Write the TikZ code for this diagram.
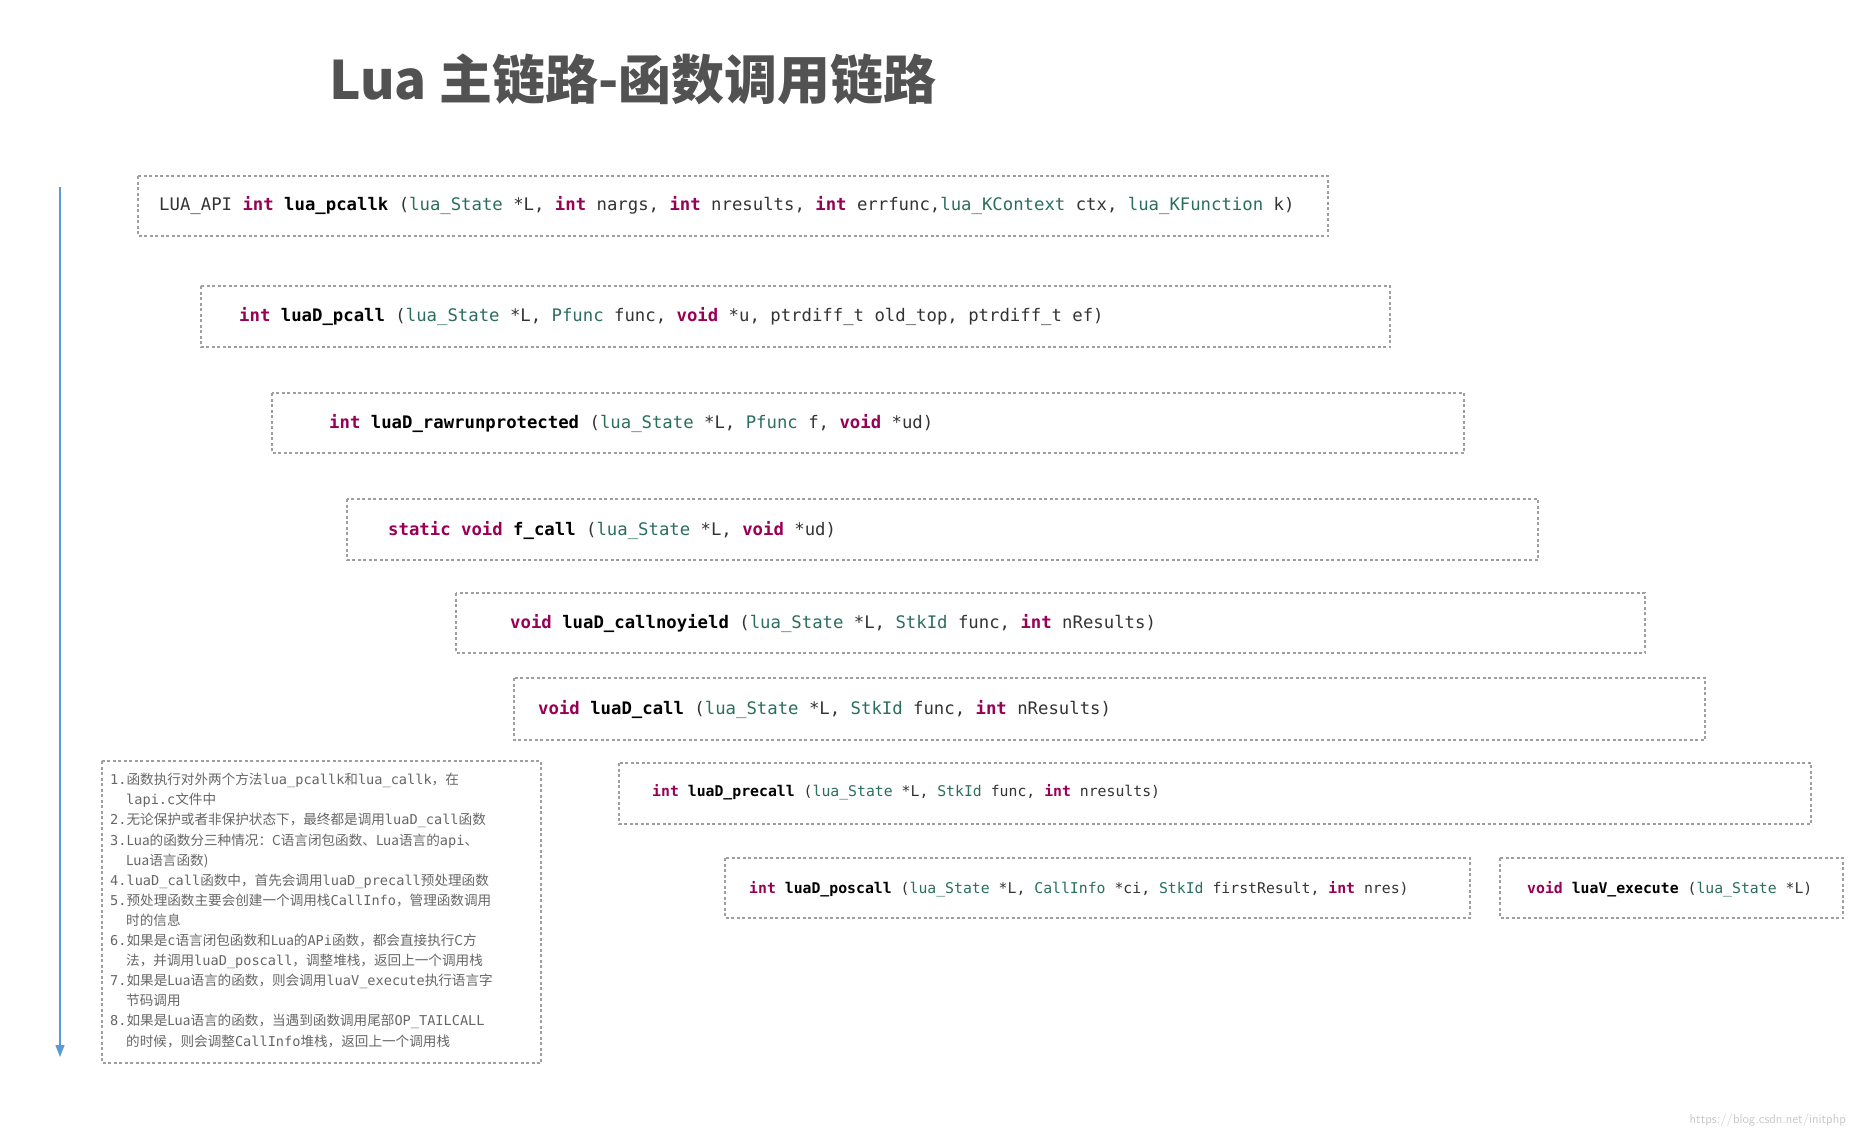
\documentclass[tikz,border=0pt]{standalone}
\usepackage{fontspec}
\usetikzlibrary{arrows.meta}
\newfontfamily\cjk{Noto Sans CJK SC}
\newfontfamily\mono{DejaVu Sans Mono}
\setmonofont{DejaVu Sans Mono}
\definecolor{kwc}{HTML}{990055}
\definecolor{tyc}{HTML}{2A6E5E}
\definecolor{txc}{HTML}{333333}
\newcommand\kw[1]{{\bfseries\color{kwc}#1}}
\newcommand\ty[1]{{\color{tyc}#1}}
\newcommand\fn[1]{{\bfseries\color{black}#1}}
\newcommand\m[1]{{\mono #1}}
\begin{document}
\begin{tikzpicture}[x=1pt,y=-1pt,
  fbox/.style={draw=gray!75,line width=1.1pt,dash pattern=on 3pt off 2.5pt},
  code/.style={anchor=west,inner sep=0pt,font=\mono\fontsize{17.3}{20}\selectfont,text=txc},
  scode/.style={anchor=west,inner sep=0pt,font=\mono\fontsize{14.8}{18}\selectfont,text=txc}]
\useasboundingbox (0,0) rectangle (1852,1136);
\node[anchor=west,inner sep=0pt,text=black!68,font=\cjk\bfseries\fontsize{53}{60}\selectfont] (title) at (329,79) {Lua 主链路-函数调用链路};
\draw[line width=1.3pt,color={rgb,255:red,91;green,155;blue,213},-{Triangle[length=12pt,width=9pt]}] (60,187) coordinate (as) -- (60,1057) coordinate (ae);
% boxes
\draw[fbox] (138,176) rectangle (1328,236);
\node[code] (t1) at (159,206) {LUA\_API \kw{int} \fn{lua\_pcallk} (\ty{lua\_State} *L, \kw{int} nargs, \kw{int} nresults, \kw{int} errfunc,\ty{lua\_KContext} ctx, \ty{lua\_KFunction} k)};
\draw[fbox] (201,286) rectangle (1390,347);
\node[code] (t2) at (239,316) {\kw{int} \fn{luaD\_pcall} (\ty{lua\_State} *L, \ty{Pfunc} func, \kw{void} *u, ptrdiff\_t old\_top, ptrdiff\_t ef)};
\draw[fbox] (272,393) rectangle (1464,453);
\node[code] (t3) at (329,423) {\kw{int} \fn{luaD\_rawrunprotected} (\ty{lua\_State} *L, \ty{Pfunc} f, \kw{void} *ud)};
\draw[fbox] (347,499) rectangle (1538,560);
\node[code] (t4) at (388,530) {\kw{static} \kw{void} \fn{f\_call} (\ty{lua\_State} *L, \kw{void} *ud)};
\draw[fbox] (456,593) rectangle (1645,653);
\node[code] (t5) at (510,623) {\kw{void} \fn{luaD\_callnoyield} (\ty{lua\_State} *L, \ty{StkId} func, \kw{int} nResults)};
\draw[fbox] (514,678) rectangle (1705,740);
\node[code] (t6) at (538,709) {\kw{void} \fn{luaD\_call} (\ty{lua\_State} *L, \ty{StkId} func, \kw{int} nResults)};
\draw[fbox] (619,763) rectangle (1811,824);
\node[scode] (t7) at (652,792) {\kw{int} \fn{luaD\_precall} (\ty{lua\_State} *L, \ty{StkId} func, \kw{int} nresults)};
\draw[fbox] (725,858) rectangle (1470,918);
\node[scode] (t8) at (749,889) {\kw{int} \fn{luaD\_poscall} (\ty{lua\_State} *L, \ty{CallInfo} *ci, \ty{StkId} firstResult, \kw{int} nres)};
\draw[fbox] (1500,858) rectangle (1843,918);
\node[scode] (t9) at (1527,889) {\kw{void} \fn{luaV\_execute} (\ty{lua\_State} *L)};
% notes
\draw[fbox] (102,761) rectangle (541,1063);
\node[anchor=north west,inner sep=0pt,align=left,text=black!60,font=\cjk\fontsize{13.6}{20.1}\selectfont] (notes) at (110,773) {%
\m{1.}函数执行对外两个方法\m{lua\_pcallk}和\m{lua\_callk}，在\\
\hspace*{16pt}\m{lapi.c}文件中\\
\m{2.}无论保护或者非保护状态下，最终都是调用\m{luaD\_call}函数\\
\m{3.}Lua的函数分三种情况：C语言闭包函数、Lua语言的\m{api}、\\
\hspace*{16pt}Lua语言函数)\\
\m{4.luaD\_call}函数中，首先会调用\m{luaD\_precall}预处理函数\\
\m{5.}预处理函数主要会创建一个调用栈\m{CallInfo}，管理函数调用\\
\hspace*{16pt}时的信息\\
\m{6.}如果是\m{c}语言闭包函数和Lua的\m{APi}函数，都会直接执行C方\\
\hspace*{16pt}法，并调用\m{luaD\_poscall}，调整堆栈，返回上一个调用栈\\
\m{7.}如果是Lua语言的函数，则会调用\m{luaV\_execute}执行语言字\\
\hspace*{16pt}节码调用\\
\m{8.}如果是Lua语言的函数，当遇到函数调用尾部\m{OP\_TAILCALL}\\
\hspace*{16pt}的时候，则会调整\m{CallInfo}堆栈，返回上一个调用栈};
\node[anchor=east,inner sep=0pt,text=black!22,font=\fontsize{13}{15}\selectfont\sffamily] (wm) at (1846,1120) {https://blog.csdn.net/initphp};
\end{tikzpicture}
\end{document}
